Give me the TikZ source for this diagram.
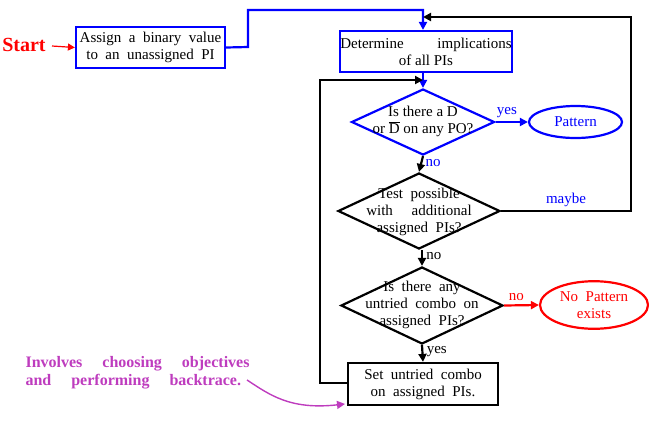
\documentclass[tikz,border=0pt]{standalone}
\usepackage{fontspec}
\setmainfont{Liberation Serif}
\usetikzlibrary{shapes.geometric,arrows.meta}
\definecolor{bl}{RGB}{0,0,255}
\definecolor{rd}{RGB}{255,0,0}
\definecolor{pu}{RGB}{190,60,190}
\begin{document}
\begin{tikzpicture}[x=1pt,y=-1pt,
  every node/.style={font=\fontsize{15}{17}\selectfont},
  box/.style={draw,line width=2.2pt,inner sep=0,minimum width=#1},
  dia/.style={diamond,draw,line width=2.2pt,inner sep=0},
  arr/.style={line width=2.2pt,-{Triangle[length=8pt,width=8pt]}},
  ln/.style={line width=2.2pt}]
\useasboundingbox (0,0) rectangle (649,424);
\node[text=rd,font=\fontsize{20}{22}\selectfont\bfseries] (st) at (24,45) {Start};
\coordinate (sa) at (52,46);
\node[box=149pt,bl,minimum height=41pt,align=center] (asg) at (150.5,47.5) {\textcolor{black}{Assign \ a \ binary \ value}\\\textcolor{black}{to \ an \ unassigned \ PI}};
\draw[rd,line width=1.2pt,-{Triangle[length=7pt,width=7pt]}] (sa) -- (asg.west);
\node[box=172pt,bl,minimum height=41pt,align=center] (det) at (426,51.5) {\textcolor{black}{Determine \qquad implications}\\\textcolor{black}{of all PIs}};
\draw[arr,bl] (asg.east) -- (248,47) -- (248,10) -- (423,10) -- (det.north-|423,0);
\node[dia,bl,minimum width=143pt,minimum height=66pt] (d1) at (423,122) {};
\node[align=center] at (423,121) {Is there a D\\or $\overline{\mbox{D}}$ on any PO?};
\draw[arr,bl] (det.south-|d1) -- (d1.north);
\node[ellipse,draw=bl,line width=2.2pt,minimum width=93pt,minimum height=32pt,text=bl] (pat) at (575.5,122) {Pattern};
\draw[arr,bl] (d1.east) -- node[above,pos=0.35,text=bl]{yes} (pat.west);
\node[dia,minimum width=162pt,minimum height=76pt] (d2) at (419,211) {};
\node[align=center] at (419,212) {Test \ possible\\with \quad additional\\assigned \ PIs?};
\draw[arr] (d1.south) -- node[right,text=bl,pos=0.45]{no} (d2.north);
\node[dia,minimum width=162pt,minimum height=77pt] (d3) at (422,305.5) {};
\node[align=center] at (422,305) {Is \ there \ any\\untried \ combo \ on\\assigned \ PIs?};
\draw[arr] (d2.south-|d3) -- node[right,pos=0.4]{no} (d3.north);
\node[ellipse,draw=rd,line width=2.2pt,minimum width=108pt,minimum height=44pt,text=rd,align=center] (np) at (594,305) {No \ Pattern\\exists};
\draw[arr,rd] (d3.east) -- node[above,pos=0.35,text=rd]{no} (np.west);
\node[box=150pt,minimum height=42pt,align=center] (set) at (423,384) {Set \ untried \ combo\\on \ assigned \ PIs.};
\draw[arr] (d3.south) -- node[right,pos=0.4]{yes} (set.north);
\draw[arr] (d2.east) -- node[above,text=bl,pos=0.5]{maybe} (631,211) -- (631,17) -- (423,17);
\draw[arr] (set.west|-0,383) -- (320,383) -- (320,80) -- (423,80);
\node[text=pu,align=left,anchor=west,font=\fontsize{16}{18}\selectfont\bfseries] (inv) at (22,373) {Involves \quad choosing \quad objectives\\and \quad performing \quad backtrace.};
\draw[pu,line width=1.4pt,-{Triangle[length=8pt,width=8pt]}] (247,380) .. controls (270,395) and (290,410) .. (345,404);
\end{tikzpicture}
\end{document}
